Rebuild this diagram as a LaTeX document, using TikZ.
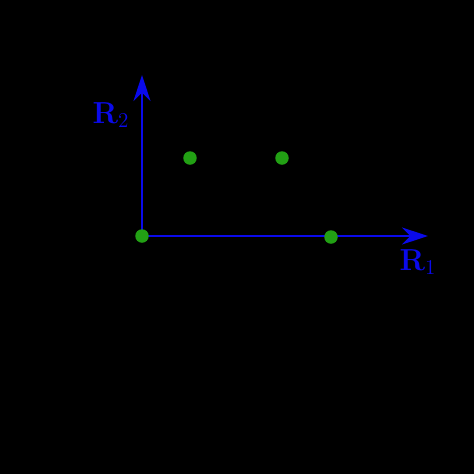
\documentclass[tikz,border=0pt]{standalone}
\usepackage{amsmath}
\usepackage{tikz}
\usetikzlibrary{positioning,calc,arrows.meta}
\definecolor{dotgreen}{RGB}{34,160,20}
\definecolor{axisblue}{RGB}{10,10,235}
\tikzstyle{axis} = [draw=axisblue,line width=1.2pt,-{Stealth[length=0.52cm,width=0.34cm]}]
\tikzstyle{dot} = [circle,fill=dotgreen,inner sep=0pt,minimum size=0.27cm]
\tikzstyle{lbl} = [text=axisblue,font=\LARGE]

\begin{document}
\begin{tikzpicture}[x=0.02cm,y=-0.02cm]
                \fill[black] (0,0) rectangle (474,474);
                \useasboundingbox (0,0) rectangle (474,474);
                \coordinate (xend) at (428,236);
                \coordinate (yend) at (142,75);
                \path [axis] (142,236) -- (xend);
                \path [axis] (142,236) -- (yend);
                \node[dot] (origin) at (142,236) {};
                \node[dot] (p1) at (190,158) {};
                \node[dot] (p2) at (282,158) {};
                \node[dot] (p3) at (331,237) {};
                \node[lbl] (r2) at (111,115) {$\mathbf{R}_2$};
                \node[lbl] (r1) at (418,262) {$\mathbf{R}_1$};
            \end{tikzpicture}
\end{document}
